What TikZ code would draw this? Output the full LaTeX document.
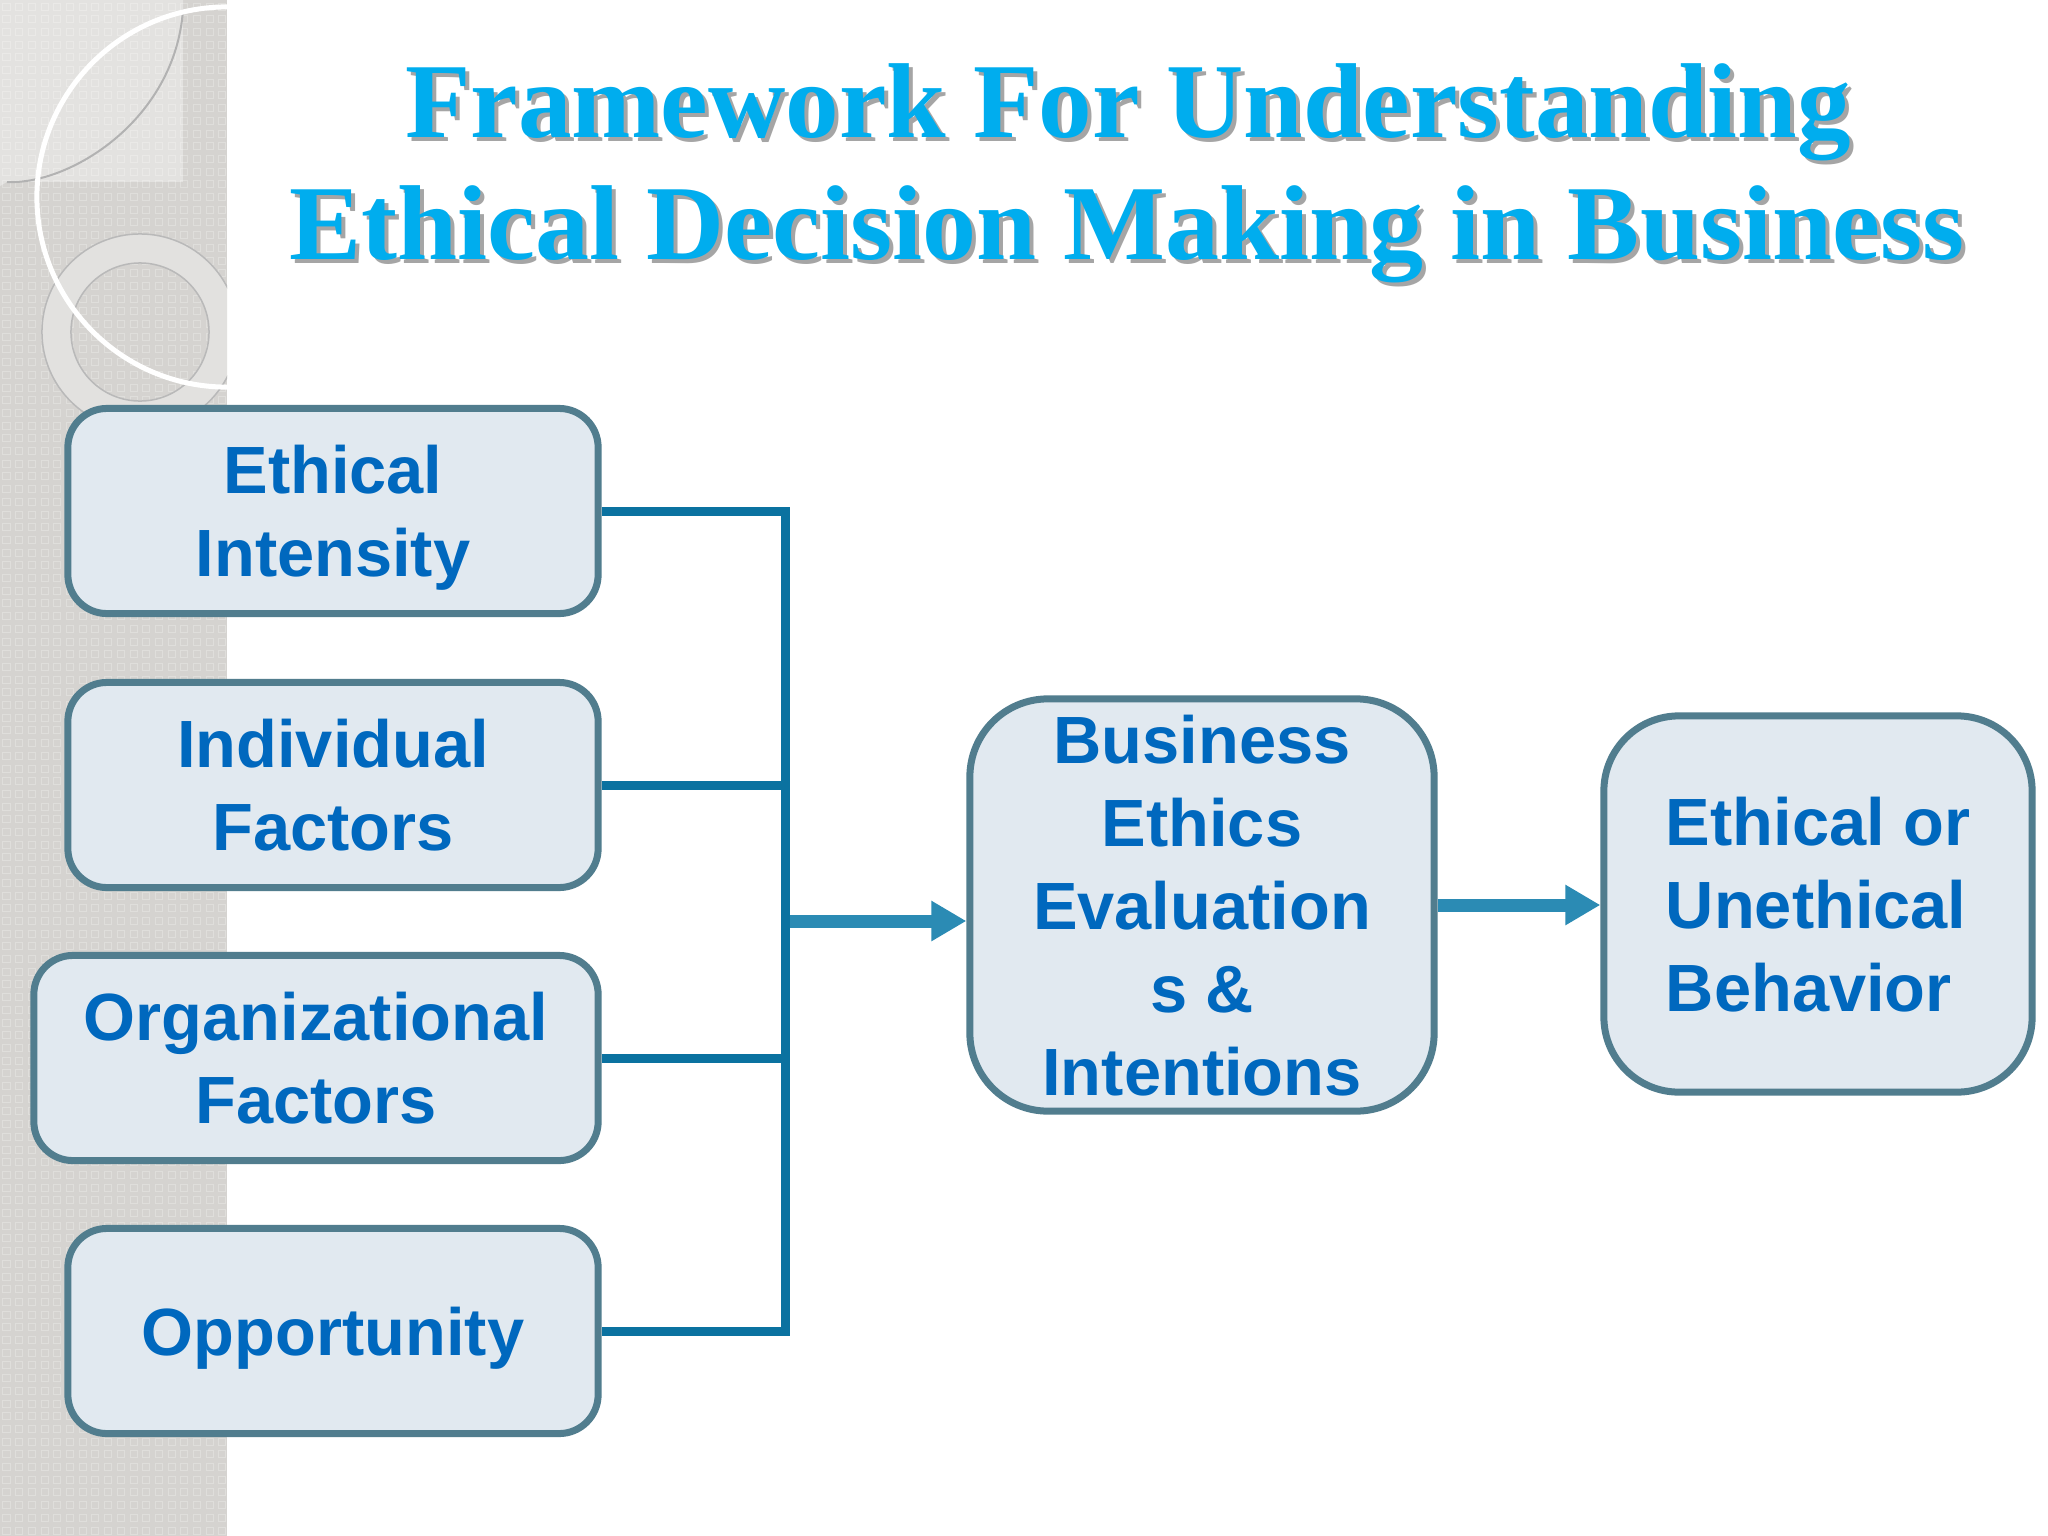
\documentclass[tikz,border=0pt]{standalone}
\usepackage{fontspec}
\setmainfont{Liberation Sans}
\newfontfamily\titlefont{Liberation Serif}
\usetikzlibrary{arrows.meta}
\definecolor{boxfill}{HTML}{E1E9F0}
\definecolor{boxline}{HTML}{517D8E}
\definecolor{txtblue}{HTML}{0068BE}
\definecolor{connc}{HTML}{0B72A0}
\definecolor{arrc}{HTML}{2B8BB4}
\definecolor{titleblue}{HTML}{00ADEE}
\definecolor{titleshadow}{HTML}{8F8F8F}
\definecolor{stripgray}{HTML}{D5D3D0}
\definecolor{striplight}{HTML}{E3E2E0}
\definecolor{ringfill}{HTML}{E2E1DF}
\begin{document}
\begin{tikzpicture}[x=0.01cm,y=-0.01cm,
 fbox/.style={draw=boxline, line width=0.07cm, fill=boxfill, rounded corners=0.39cm,
   text=txtblue, font=\fontsize{19}{23.6}\selectfont\bfseries, align=center, inner sep=0pt,
   text depth=0pt},
 conn/.style={draw=connc, line width=0.09cm},
 arr/.style={draw=arrc, line width=0.13cm, -{Triangle[length=0.35cm,width=0.38cm]}},
 ttl/.style={font=\titlefont\bfseries, text=titleblue, anchor=base, inner sep=0pt},
 ttlsh/.style={font=\titlefont\bfseries, text=titleshadow, anchor=base, inner sep=0pt, opacity=0.8},
]
\useasboundingbox (0,0) rectangle (2048,1536);
\fill[white] (0,0) rectangle (2048,1536);
% decorative strip
\begin{scope}
\clip (0,0) rectangle (227,1536);
\fill[stripgray] (0,0) rectangle (227,1536);
\fill[striplight] (0,0) rectangle (183,182);
\fill[striplight] (7,182) .. controls (70,185) and (175,120) .. (183,10)
  -- (183,0) arc[start angle=90, end angle=180, radius=1.90cm] -- cycle;
\foreach \i in {0,...,17}{
  \foreach \j in {0,...,120}{
    \pgfmathsetmacro{\px}{\i*12.7}
    \pgfmathsetmacro{\py}{\j*12.7}
    \draw[white, opacity=0.25, line width=0.01cm] (\px+3,\py+3) rectangle ++(7,7);
  }
}
\draw[gray!60, line width=0.02cm] (7,182) .. controls (70,185) and (175,120) .. (183,10);
\fill[ringfill, even odd rule] (140,332) circle (0.98cm) (140,332) circle (0.69cm);
\draw[gray!55, line width=0.015cm] (140,332) circle (0.98cm);
\draw[gray!55, line width=0.015cm] (140,332) circle (0.69cm);
\draw[white, line width=0.05cm] (227,197) circle (1.90cm);
\end{scope}
% title
\node[ttlsh] at (1132,141) {\resizebox{411pt}{21pt}{Framework For Understanding}};
\node[ttl] (t1) at (1128,137) {\resizebox{411pt}{21pt}{Framework For Understanding}};
\node[ttlsh] at (1131,263) {\resizebox{476pt}{21pt}{Ethical Decision Making in Business}};
\node[ttl] (t2) at (1127,259) {\resizebox{476pt}{21pt}{Ethical Decision Making in Business}};
% boxes
\node[fbox, minimum width=5.30cm, minimum height=2.05cm] (b1) at (333,511) {Ethical\\Intensity};
\node[fbox, minimum width=5.30cm, minimum height=2.05cm] (b2) at (333,785) {Individual\\Factors};
\node[fbox, minimum width=5.64cm, minimum height=2.05cm] (b3) at (316,1058) {Organizational\\Factors};
\node[fbox, minimum width=5.30cm, minimum height=2.05cm] (b4) at (333,1331) {Opportunity};
\node[fbox, minimum width=4.64cm, minimum height=4.12cm, rounded corners=0.78cm] (b5) at (1202,905)
  {Business\\Ethics\\Evaluation\\s \&\\Intentions};
\node[fbox, minimum width=4.28cm, minimum height=3.76cm, rounded corners=0.75cm, align=left] (b6) at (1818,904)
  {Ethical or\\Unethical\\Behavior};
% connectors
\coordinate (bt) at (785,511);
\coordinate (bb) at (785,1331);
\draw[conn] (b1.east) -- (bt) -- (bb) -- (b4.east);
\draw[conn] (b2.east) -- (b2.east -| bt);
\draw[conn] (b3.east) -- (b3.east -| bt);
\coordinate (as) at (790,921);
\draw[arr] (as) -- (as -| b5.west);
\coordinate (as2) at (1434,905);
\draw[arr] (as2 -| b5.east) -- (as2 -| b6.west);
\end{tikzpicture}
\end{document}
